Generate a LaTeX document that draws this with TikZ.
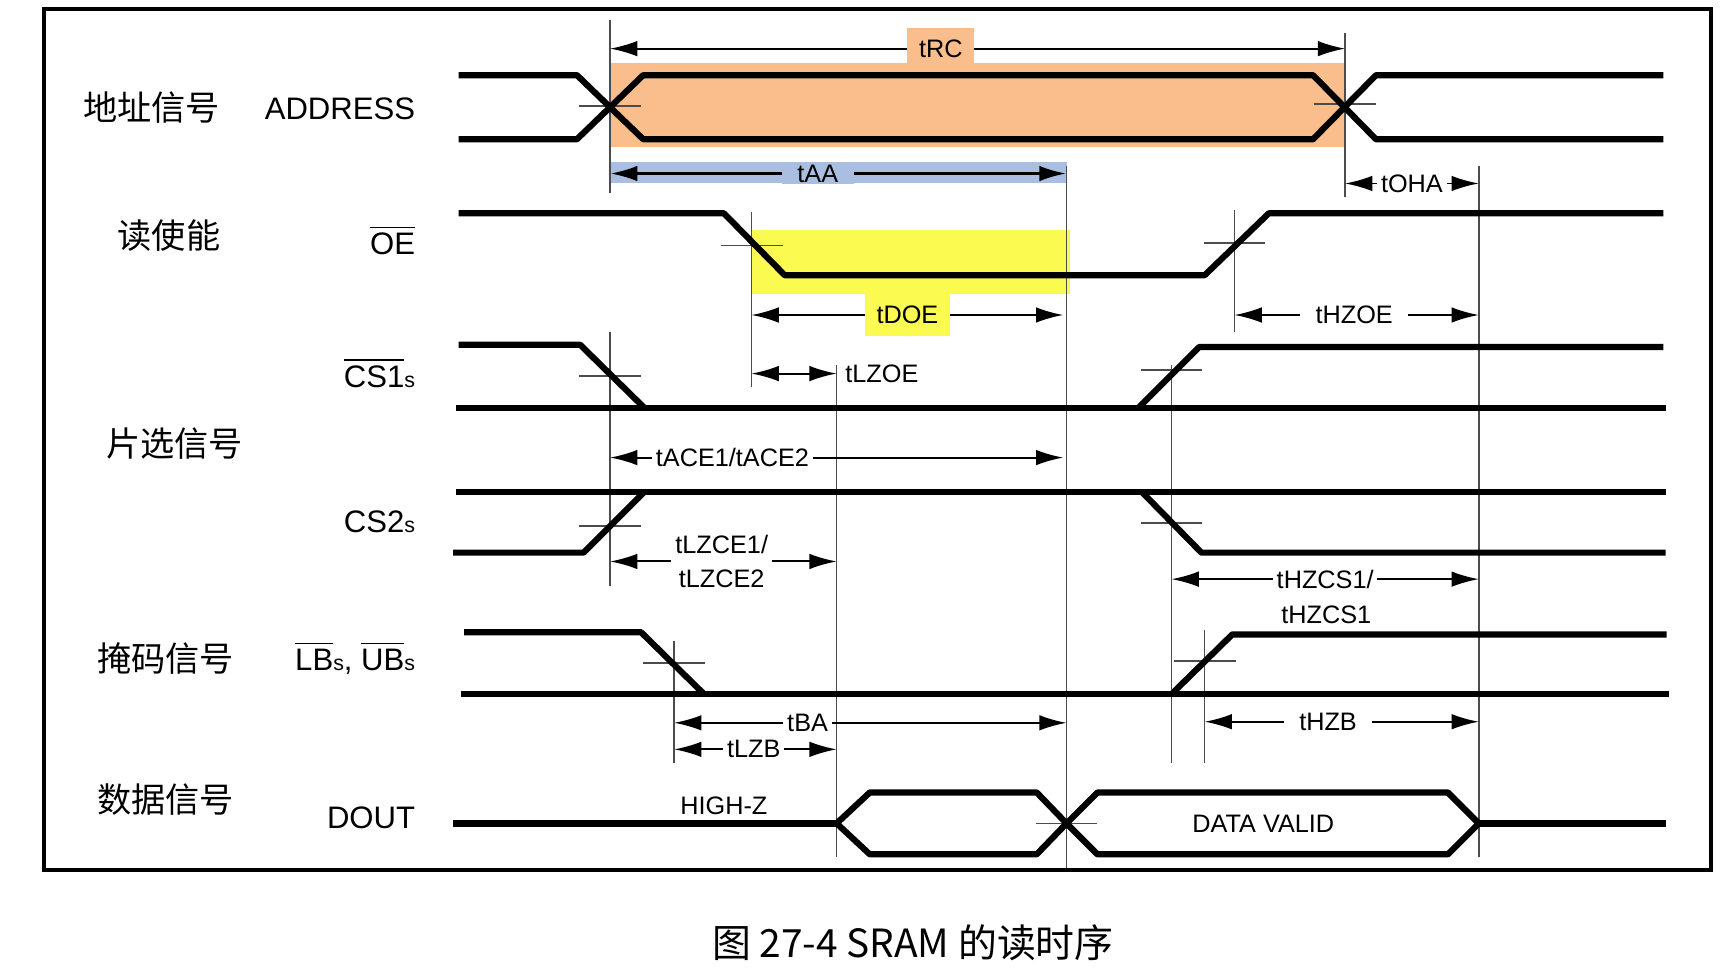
\documentclass[tikz,border=0pt]{standalone}
\usepackage{fontspec}
\setmainfont{Liberation Sans}
\newfontfamily\cjk{Noto Sans CJK SC}
\usetikzlibrary{arrows.meta}
\definecolor{org}{RGB}{250,190,140}
\definecolor{blu}{RGB}{170,190,225}
\definecolor{yel}{RGB}{250,250,80}
\begin{document}
\begin{tikzpicture}[x=0.01cm,y=-0.01cm,
 sig/.style={line width=1.6pt,line join=round},
 guide/.style={line width=0.4pt,black!70},
 tick/.style={line width=0.4pt,black!70},
 dim/.style={line width=0.5pt,{Latex[length=7pt,width=4pt]}-{Latex[length=7pt,width=4pt]}},
 tl/.style={font=\fontsize{6.5}{7}\selectfont,inner sep=1pt,fill=white},
 sl/.style={font=\fontsize{8}{9}\selectfont,anchor=east},
 cl/.style={font=\cjk\fontsize{8.8}{10}\selectfont}]
\useasboundingbox (0,0) rectangle (1568,875);
\draw[line width=1pt] (40,8) rectangle (1548,787);
% highlight bands
\fill[org] (553,57) rectangle (1217,133);
\fill[blu] (553,147) rectangle (965,166);
\fill[yel] (680,208) rectangle (968,266);
% guides
\foreach \x/\a/\b in {552/18/175,1217/30/178,965/150/785,680/192/350,1117/190/300,1338/150/775,552/300/530,757/330/775,1060/330/690,610/580/690,1090/570/690}
  \draw[guide] (\x,\a) -- (\x,\b);
% ticks
\foreach \x/\y in {552/96,1217/94,680/222,1117/220,552/340,1060/335,552/476,1060/473,610/600,1090/598,965/745}
  \draw[tick] (\x-28,\y) -- (\x+28,\y);
% ADDRESS
\draw[sig] (415,68) -- (522,68) -- (582,126) -- (1188,126) -- (1245,68) -- (1505,68);
\draw[sig] (415,126) -- (522,126) -- (582,68) -- (1188,68) -- (1245,126) -- (1505,126);
% OE
\draw[sig] (415,193) -- (655,193) -- (710,249) -- (1090,249) -- (1148,193) -- (1505,193);
% CS1
\draw[sig] (415,312) -- (525,312) -- (583,369);
\draw[sig] (413,369) -- (1507,369);
\draw[sig] (1030,369) -- (1085,314) -- (1505,314);
% CS2
\draw[sig] (413,445) -- (1507,445);
\draw[sig] (410,500) -- (528,500) -- (583,445);
\draw[sig] (1033,445) -- (1087,500) -- (1507,500);
% LB UB
\draw[sig] (420,572) -- (580,572) -- (637,628);
\draw[sig] (417,628) -- (1510,628);
\draw[sig] (1060,628) -- (1115,574) -- (1508,574);
% DOUT
\draw[sig] (410,745) -- (757,745);
\draw[sig] (757,745) -- (787,717) -- (938,717) -- (965,745) -- (938,773) -- (787,773) -- cycle;
\draw[sig] (965,745) -- (993,717) -- (1310,717) -- (1338,745) -- (1310,773) -- (993,773) -- cycle;
\draw[sig] (1338,745) -- (1507,745);
% dimensions
\coordinate (a1) at (552,44); \coordinate (a2) at (1217,44);
\draw[dim] (a1) -- (a2) node[tl,fill=org,pos=0.45,inner sep=3pt] {tRC};
\coordinate (b1) at (552,157); \coordinate (b2) at (965,157);
\draw[dim,line width=0.8pt] (b1) -- (b2) node[tl,fill=blu,pos=0.455,inner xsep=4pt,inner ysep=0.5pt] {tAA};
\coordinate (c1) at (1217,166); \coordinate (c2) at (1338,166);
\draw[dim] (c1) -- (c2) node[tl,midway] {tOHA};
\coordinate (d1) at (680,285); \coordinate (d2) at (962,285);
\draw[dim] (d1) -- (d2) node[tl,fill=yel,pos=0.5,inner sep=3pt] {tDOE};
\coordinate (e1) at (1117,285); \coordinate (e2) at (1338,285);
\draw[dim] (e1) -- (e2) node[tl,pos=0.49,inner sep=4pt] {tHZOE};
\coordinate (f1) at (680,338); \coordinate (f2) at (757,338);
\draw[dim] (f1) -- (f2) node[tl,anchor=west,inner sep=2pt] {tLZOE};
\coordinate (g1) at (552,414); \coordinate (g2) at (962,414);
\draw[dim] (g1) -- (g2) node[tl,pos=0.27] {tACE1/tACE2};
\coordinate (h1) at (552,508); \coordinate (h2) at (757,508);
\draw[dim] (h1) -- (h2);
\node[tl,align=center,font=\fontsize{6.5}{8.5}\selectfont] (hl) at (653,508) {tLZCE1/\\tLZCE2};
\coordinate (i1) at (1060,524); \coordinate (i2) at (1338,524);
\draw[dim] (i1) -- (i2) node[tl,pos=0.5] {tHZCS1/};
\node[tl] (il) at (1200,556) {tHZCS1};
\coordinate (j1) at (610,654); \coordinate (j2) at (965,654);
\draw[dim] (j1) -- (j2) node[tl,pos=0.34] {tBA};
\coordinate (k1) at (610,678); \coordinate (k2) at (757,678);
\draw[dim] (k1) -- (k2) node[tl,pos=0.49] {tLZB};
\coordinate (l1) at (1090,653); \coordinate (l2) at (1338,653);
\draw[dim] (l1) -- (l2) node[tl,pos=0.45,inner sep=4pt] {tHZB};
\node[tl,fill=none] (hz) at (655,729) {HIGH-Z};
\node[tl,fill=none] (dv) at (1143,745) {DATA VALID};
% left labels
\node[cl] (n1) at (137,97) {地址信号};
\node[sl] (s1) at (388,98) {ADDRESS};
\node[cl] (n2) at (153,213) {读使能};
\node[sl] (s2) at (388,217) {$\overline{\mbox{OE}}$};
\node[sl] (s3) at (388,337) {$\overline{\mbox{CS1}}$\fontsize{5.5}{7}\selectfont s};
\node[cl] (n3) at (158,401) {片选信号};
\node[sl] (s4) at (388,472) {CS2\fontsize{5.5}{7}\selectfont s};
\node[cl] (n4) at (150,596) {掩码信号};
\node[sl] (s5) at (388,595) {$\overline{\mbox{LB}}${\fontsize{5.5}{7}\selectfont s}, $\overline{\mbox{UB}}${\fontsize{5.5}{7}\selectfont s}};
\node[cl] (n5) at (150,723) {数据信号};
\node[sl] (s6) at (388,740) {DOUT};
\node[font=\cjk\fontsize{10}{12}\selectfont] (cap) at (826,853) {图 27-4 SRAM 的读时序};
\end{tikzpicture}
\end{document}
